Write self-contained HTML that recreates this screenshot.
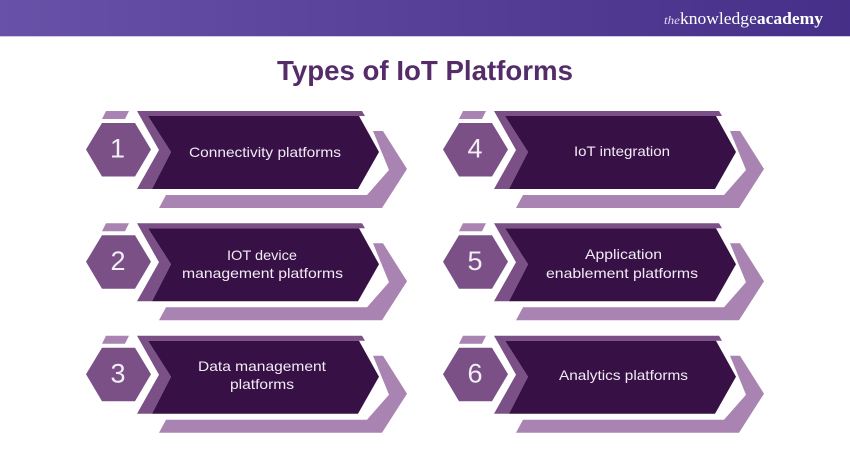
<!DOCTYPE html>
<html>
<head>
<meta charset="utf-8">
<style>
html,body{margin:0;padding:0;background:#fff}
svg{display:block}
text{font-family:"Liberation Sans",sans-serif}
</style>
</head>
<body>
<svg width="850" height="450" viewBox="0 0 850 450" xmlns="http://www.w3.org/2000/svg">
<defs>
<linearGradient id="h" x1="0" x2="1" y1="0" y2="0">
<stop offset="0" stop-color="#6851a8"/>
<stop offset="1" stop-color="#452f88"/>
</linearGradient>
<g id="u">
<polygon points="102,119 106,111 129,111 125,119" fill="#a983b1"/>
<polygon points="86,149.5 102,123 135,123 151,149.5 135,176.5 102,176.5" fill="#7a5086"/>
<polygon points="137,111 362,111 365,116 148,116 171,152 152,189 137,189 159,150" fill="#7a5086"/>
<polygon points="148,116 359,116 379,152 358,189 152,189 171,152" fill="#371146"/>
<polygon points="373,131 383,131 407,169 382,208 159,208 166,195 367,195 389,170" fill="#a983b1"/>
</g>
</defs>
<rect width="850" height="36" fill="url(#h)"/>
<rect y="36" width="850" height="1" fill="#cfc8e0"/>
<text x="664" y="24" font-size="12" font-style="italic" fill="#e4dcf0" style="font-family:'Liberation Serif',serif" textLength="16" lengthAdjust="spacingAndGlyphs">the</text>
<text x="680" y="24" font-size="17" fill="#fff" style="font-family:'Liberation Serif',serif" textLength="143" lengthAdjust="spacingAndGlyphs">knowledge<tspan font-weight="bold">academy</tspan></text>
<text x="277" y="80" font-size="28" font-weight="bold" fill="#532c69" textLength="296" lengthAdjust="spacingAndGlyphs">Types of IoT Platforms</text>

<use href="#u"/>
<use href="#u" y="112.3"/>
<use href="#u" y="224.7"/>
<use href="#u" x="357"/>
<use href="#u" x="357" y="112.3"/>
<use href="#u" x="357" y="224.7"/>

<g font-size="27" fill="#f3eef5" text-anchor="middle">
<text x="117.5" y="157.5">1</text>
<text x="118" y="270">2</text>
<text x="118" y="382.5">3</text>
<text x="475" y="157.5">4</text>
<text x="475" y="270">5</text>
<text x="475" y="382.5">6</text>
</g>
<g font-size="14" fill="#f1ebf3">
<text x="189" y="157" textLength="152" lengthAdjust="spacingAndGlyphs">Connectivity platforms</text>
<text x="227" y="260" textLength="70" lengthAdjust="spacingAndGlyphs">IOT device</text>
<text x="182" y="278" textLength="161" lengthAdjust="spacingAndGlyphs">management platforms</text>
<text x="198" y="371" textLength="128" lengthAdjust="spacingAndGlyphs">Data management</text>
<text x="230" y="389" textLength="64" lengthAdjust="spacingAndGlyphs">platforms</text>
<text x="574" y="156" textLength="96" lengthAdjust="spacingAndGlyphs">IoT integration</text>
<text x="585" y="259" textLength="77" lengthAdjust="spacingAndGlyphs">Application</text>
<text x="546" y="278" textLength="152" lengthAdjust="spacingAndGlyphs">enablement platforms</text>
<text x="559" y="380" textLength="129" lengthAdjust="spacingAndGlyphs">Analytics platforms</text>
</g>
</svg>
</body>
</html>
